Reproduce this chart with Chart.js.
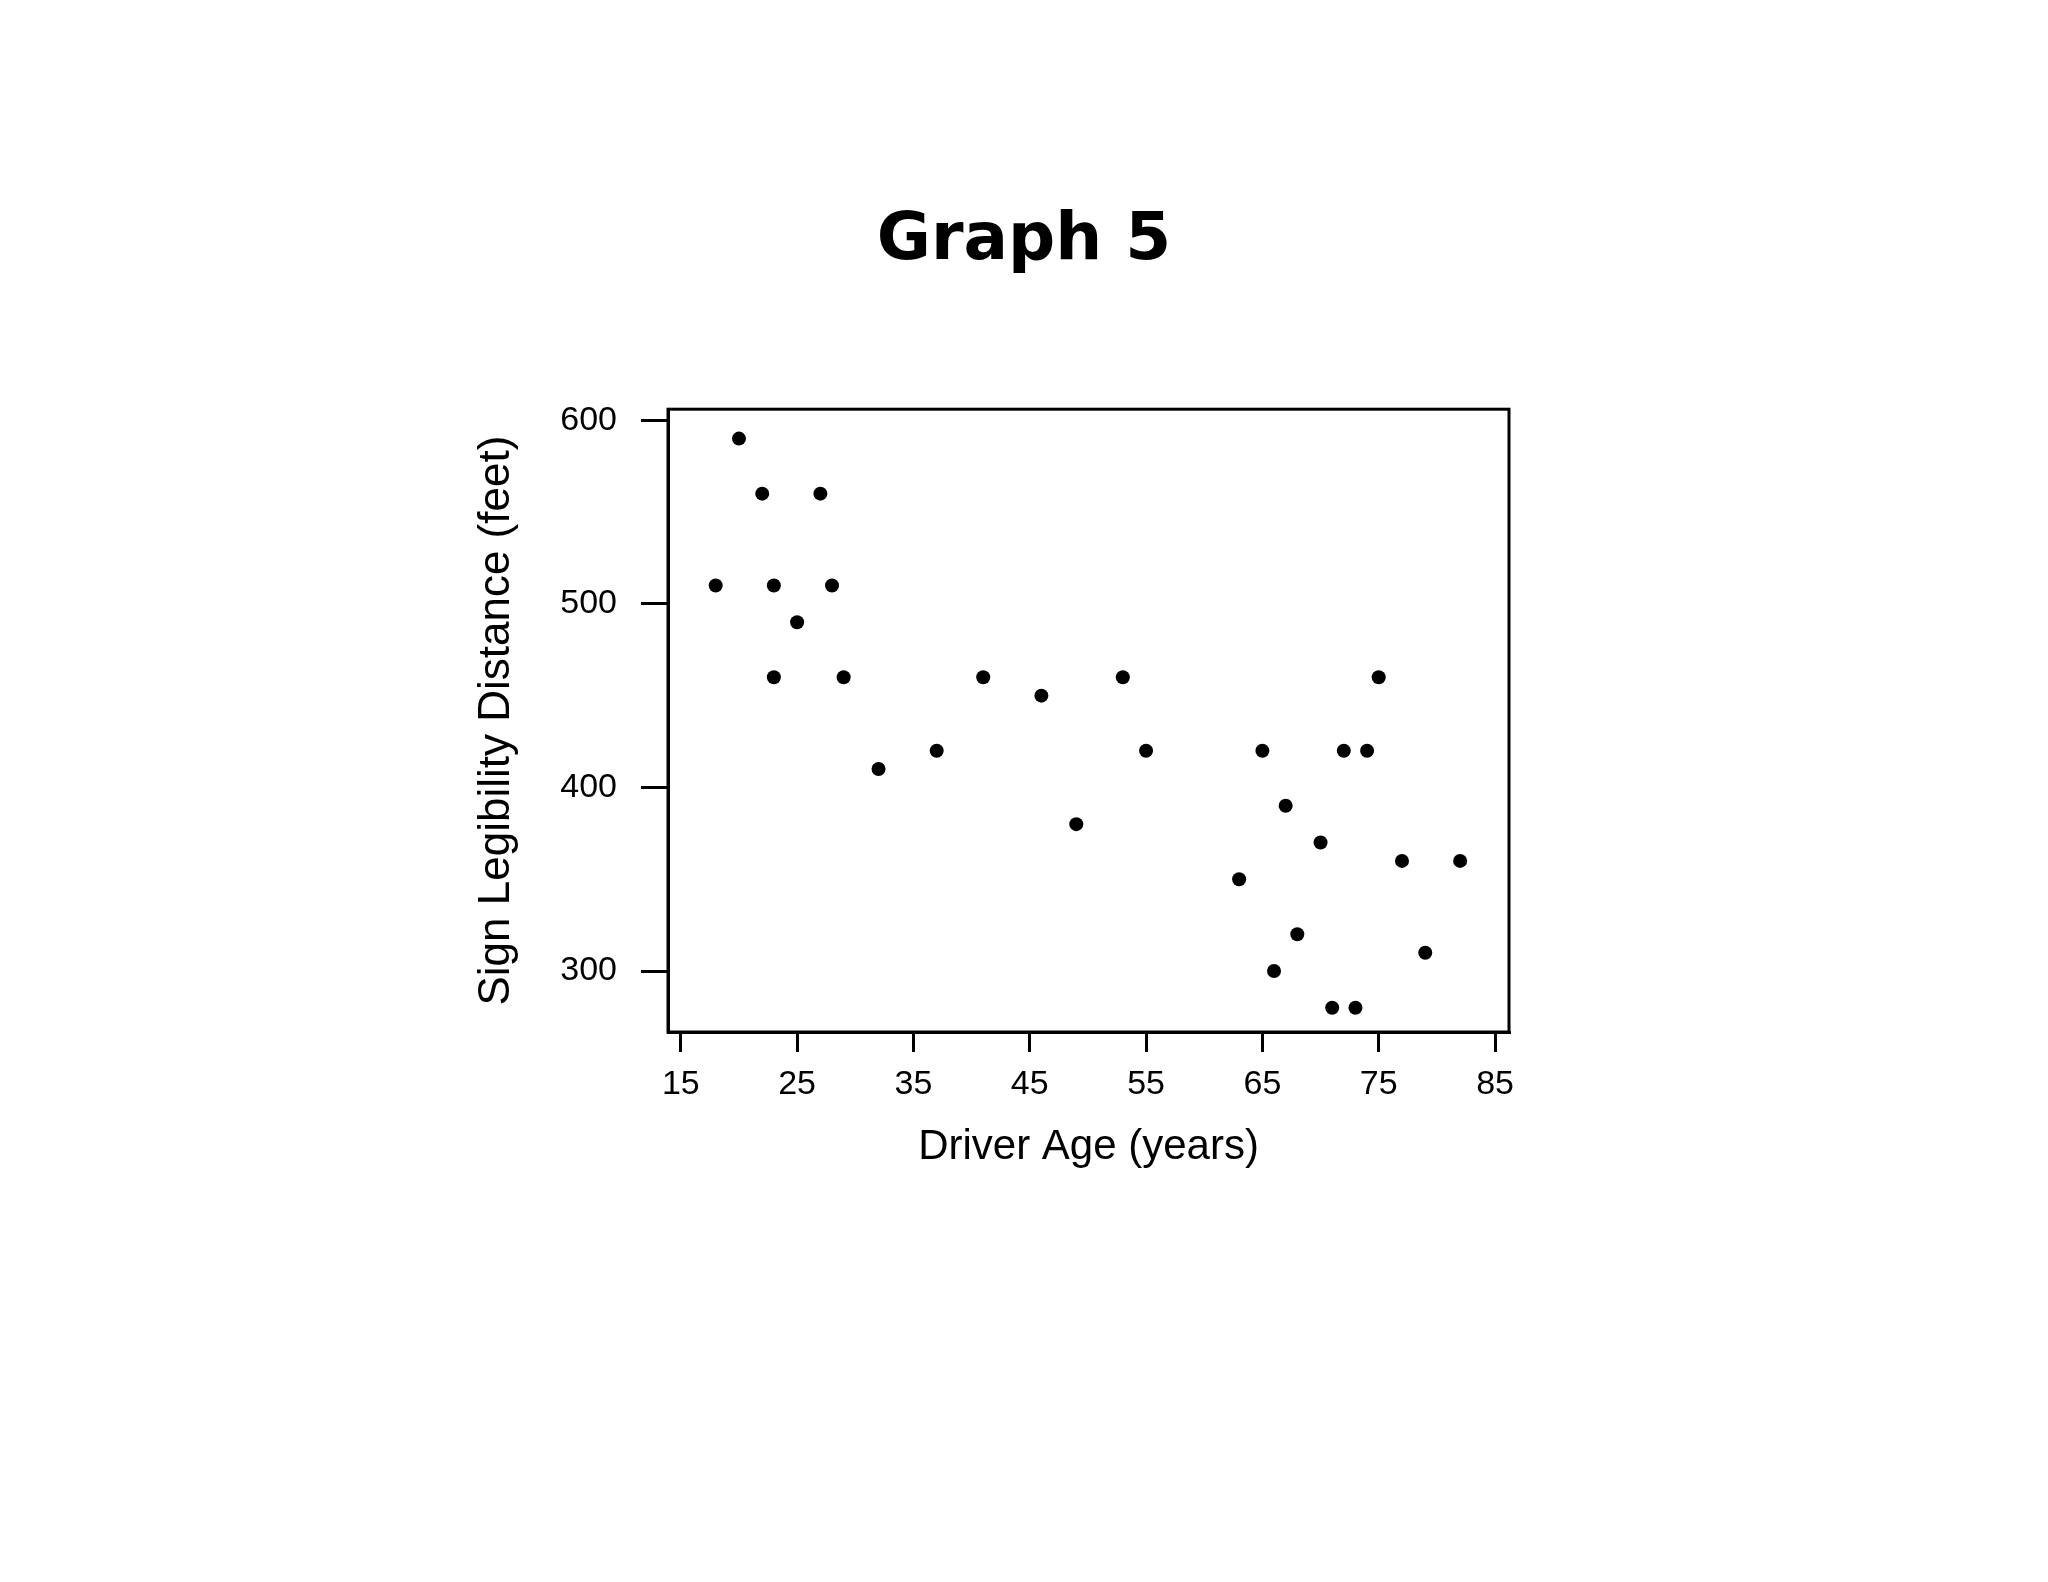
<!DOCTYPE html>
<html>
<head>
<meta charset="utf-8">
<title>Graph 5</title>
<script src="https://cdn.jsdelivr.net/npm/chart.js@4.4.1/dist/chart.umd.min.js"></script>
<style>
    html, body { margin: 0; padding: 0; background: #fff; }
    #wrap { width: 2048px; height: 1582px; }
</style>
</head>
<body>
<div id="wrap"><canvas id="graph5"></canvas></div>
<script>
// driver age (years) and sign legibility distance (feet)
const driverAge = [18, 20, 22, 23, 23, 25, 27, 28, 29, 32, 37, 41, 46, 49, 53, 55, 63, 65, 66, 67, 68, 70, 71, 72, 73, 74, 75, 77, 79, 82];
const legibility = [510, 590, 560, 510, 460, 490, 560, 510, 460, 410, 420, 460, 450, 380, 460, 420, 350, 420, 300, 390, 320, 370, 280, 420, 280, 420, 460, 360, 310, 360];

const xTicks = [15, 25, 35, 45, 55, 65, 75, 85];
const yTicks = [300, 400, 500, 600];

const axisFont = "'Liberation Sans', Arial, sans-serif";

// box round the plot area (top and right sides too)
const frame = {
    id: "frame",
    afterDraw(chart) {
        const { ctx, chartArea: a } = chart;
        ctx.save();
        ctx.strokeStyle = "#000";
        ctx.lineWidth = 3;
        ctx.strokeRect(a.left, a.top, a.right - a.left, a.bottom - a.top);
        ctx.restore();
    }
};

const points = driverAge.map((age, i) => ({ x: age, y: legibility[i] }));

new Chart(document.getElementById("graph5"), {
    type: "scatter",
    data: {
        datasets: [{
            data: points,
            backgroundColor: "#000",
            borderWidth: 0,
            pointRadius: 7,
            pointHoverRadius: 7
        }]
    },
    options: {
        responsive: true,
        maintainAspectRatio: false,
        animation: false,
        layout: {
            autoPadding: false,
            padding: { left: 468, right: 468, top: 0, bottom: 350 }
        },
        plugins: {
            legend: { display: false },
            tooltip: { enabled: false },
            title: {
                display: true,
                text: "Graph 5",
                color: "#000",
                font: { family: "'Comic Sans MS', 'DejaVu Sans', sans-serif", size: 66, weight: "bold" },
                padding: { top: 202, bottom: 128 }
            }
        },
        scales: {
            x: {
                type: "linear",
                min: 13.9,
                max: 86.2,
                afterBuildTicks: (axis) => { axis.ticks = xTicks.map(v => ({ value: v })); },
                afterFit: (axis) => { axis.height = 200; },
                border: { display: true, color: "#000", width: 3 },
                grid: { drawOnChartArea: false, drawTicks: true, tickLength: 20, color: "#000", lineWidth: 3 },
                ticks: {
                    autoSkip: false,
                    maxRotation: 0,
                    color: "#000",
                    padding: 12,
                    font: { family: axisFont, size: 34 }
                },
                title: {
                    display: true,
                    text: "Driver Age (years)",
                    color: "#000",
                    font: { family: axisFont, size: 42 },
                    padding: { top: 0, bottom: 59 }
                }
            },
            y: {
                type: "linear",
                min: 266.8,
                max: 606,
                afterBuildTicks: (axis) => { axis.ticks = yTicks.map(v => ({ value: v })); },
                afterFit: (axis) => { axis.width = 200; },
                border: { display: true, color: "#000", width: 3 },
                grid: { drawOnChartArea: false, drawTicks: true, tickLength: 27, color: "#000", lineWidth: 3 },
                ticks: {
                    autoSkip: false,
                    color: "#000",
                    padding: 24,
                    font: { family: axisFont, size: 34 }
                },
                title: {
                    display: true,
                    text: "Sign Legibility Distance (feet)",
                    color: "#000",
                    font: { family: axisFont, size: 44 },
                    padding: { top: 2, bottom: 0 }
                }
            },
            // empty spacer on the right so the title sits over the page centre
            spacer: {
                type: "linear",
                position: "right",
                min: 266.8,
                max: 606,
                afterFit: (axis) => { axis.width = 71; },
                border: { display: false },
                grid: { display: false },
                ticks: { display: false }
            }
        }
    },
    plugins: [frame]
});
</script>
</body>
</html>
